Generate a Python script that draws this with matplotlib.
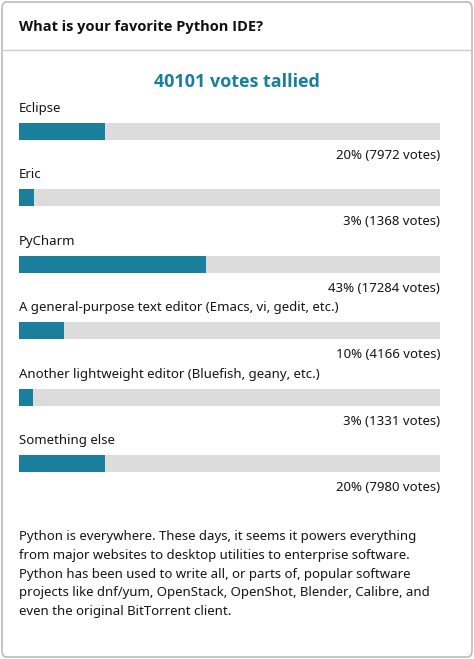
import matplotlib
matplotlib.use("Agg")
import matplotlib.pyplot as plt
from matplotlib.patches import FancyBboxPatch

plt.rcParams['font.family'] = ['Noto Sans', 'DejaVu Sans']

categories = ["Eclipse", "Eric", "PyCharm",
              "A general-purpose text editor (Emacs, vi, gedit, etc.)",
              "Another lightweight editor (Bluefish, geany, etc.)",
              "Something else"]
percents = [20, 3, 43, 10, 3, 20]
votes = [7972, 1368, 17284, 4166, 1331, 7980]
total = 40101
paragraph = ("Python is everywhere. These days, it seems it powers everything\n"
             "from major websites to desktop utilities to enterprise software.\n"
             "Python has been used to write all, or parts of, popular software\n"
             "projects like dnf/yum, OpenStack, OpenShot, Blender, Calibre, and\n"
             "even the original BitTorrent client.")

W, H = 474, 659
fig = plt.figure(figsize=(W/100, H/100), dpi=100)
fig.patch.set_facecolor("white")
teal = "#1a7f9c"
grey = "#dcdcdc"
bold = ['Open Sans', 'DejaVu Sans']

fig.patches.append(FancyBboxPatch((2/W, 2/H), (W-4)/W, (H-4)/H,
                   boxstyle="round,pad=0,rounding_size=0.01", transform=fig.transFigure,
                   fill=False, edgecolor="#bbbbbb", lw=1.2))
fig.text(19/W, 1-27/H, "What is your favorite Python IDE?", fontsize=10.5,
         fontweight="bold", family=bold, va="center", ha="left", color="#111111")
fig.add_artist(plt.Line2D([3/W, (W-3)/W], [1-50/H, 1-50/H], color="#cccccc", lw=1,
                          transform=fig.transFigure))
fig.text(0.5, 1-82/H, f"{total} votes tallied", fontsize=13, fontweight="bold",
         family=bold, color=teal, ha="center", va="center")

ax = fig.add_axes([19/W, 0, (440-19)/W, 1])
ax.set_xlim(0, 100)
ax.set_ylim(H, 0)
ax.axis("off")
ys = [131.5 + i*66.4 for i in range(len(categories))]
ax.barh(ys, [100]*len(ys), height=17, color=grey, left=0)
ax.barh(ys, [v/total*100*1.03 for v in votes], height=17, color=teal, left=0)
for y, c, p, v in zip(ys, categories, percents, votes):
    ax.text(0, y-23, c, fontsize=9.5, va="center", ha="left", color="#151515")
    ax.text(100, y+24, f"{p}% ({v} votes)", fontsize=9.5, va="center", ha="right",
            color="#151515")

fig.text(19/W, 1-530/H, paragraph, fontsize=9.5, va="top", ha="left",
         linespacing=1.58, color="#151515")
fig.savefig("out.png", dpi=100)
